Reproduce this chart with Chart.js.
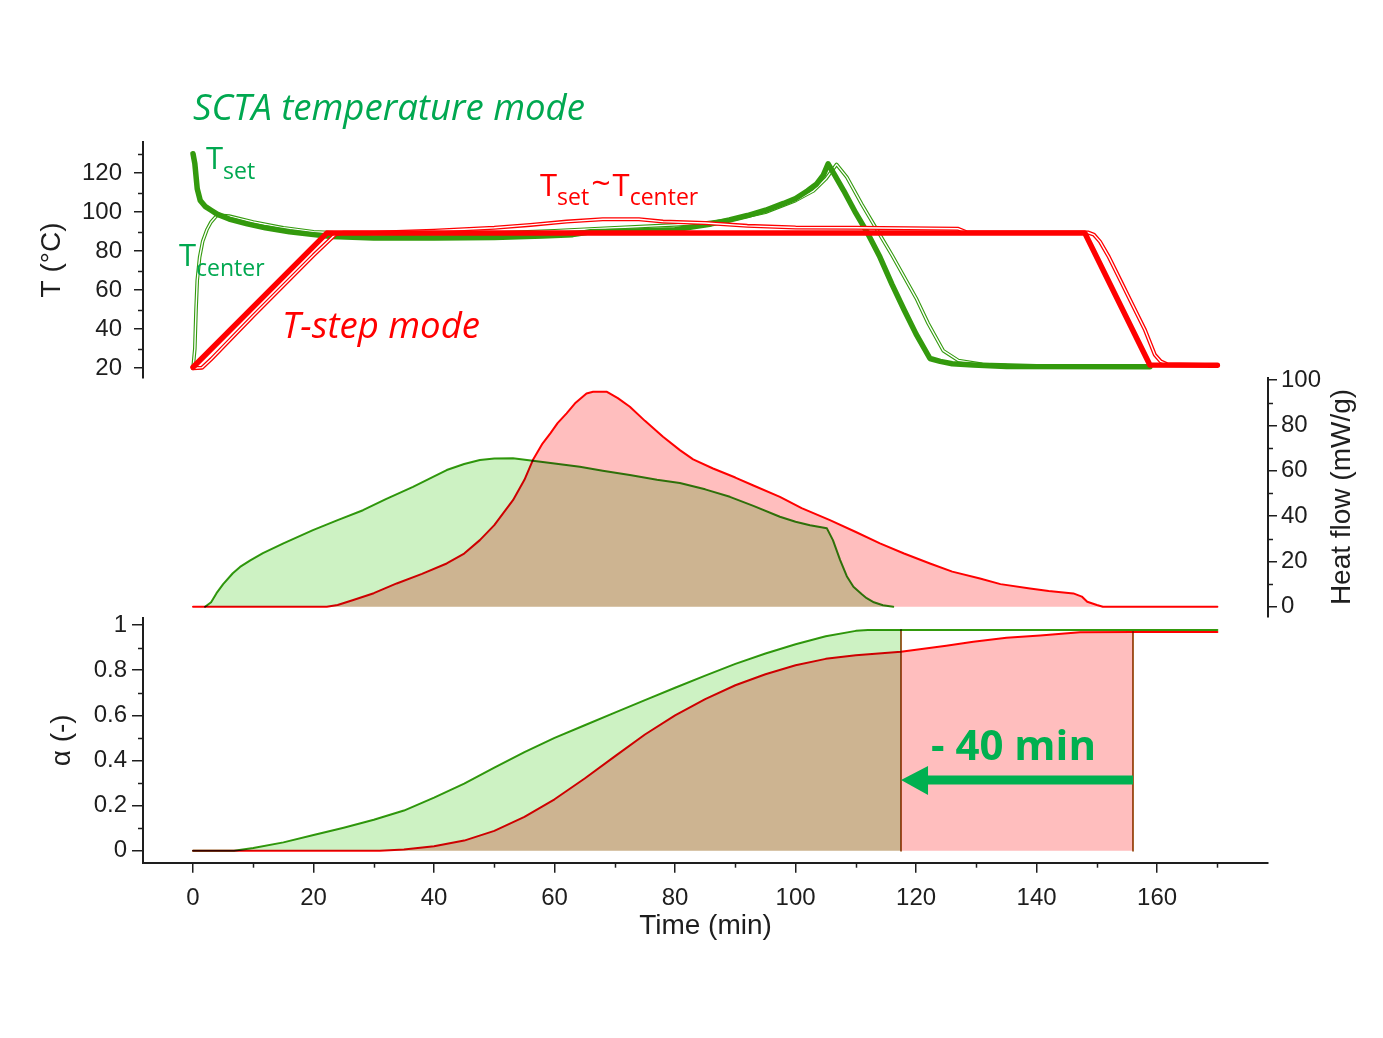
<!DOCTYPE html>
<html><head><meta charset="utf-8">
<script src="https://cdn.jsdelivr.net/npm/chart.js@4.4.0/dist/chart.umd.min.js"></script>
<style>
html,body{margin:0;padding:0;background:#fff;}
#wrap{position:relative;width:1383px;height:1038px;overflow:hidden;background:#fff;}
canvas{position:absolute;left:0;top:0;}
</style></head><body>
<div id="wrap">
<canvas id="cTop" width="1383" height="1038"></canvas>
<canvas id="cMid" width="1383" height="1038"></canvas>
<canvas id="cBot" width="1383" height="1038"></canvas>
</div>
<script>
// ---------------- DATA ----------------
const timeRange = [-8.3, 178.4];
const timeTicks = [0, 20, 40, 60, 80, 100, 120, 140, 160];
const timeTickLabels = ['0', '20', '40', '60', '80', '100', '120', '140', '160'];
const timeMinorTicks = [10, 30, 50, 70, 90, 110, 130, 150, 170];

const tempRange = [15, 136];
const tempTicks = [20, 40, 60, 80, 100, 120];
const tempTickLabels = ['20', '40', '60', '80', '100', '120'];
const tempMinorTicks = [30, 50, 70, 90, 110, 130];

const heatRange = [-4.5, 100.9];
const heatTicks = [0, 20, 40, 60, 80, 100];
const heatTickLabels = ['0', '20', '40', '60', '80', '100'];
const heatMinorTicks = [10, 30, 50, 70, 90];

const alphaRange = [-0.053, 1.031];
const alphaTicks = [0, 0.2, 0.4, 0.6, 0.8, 1];
const alphaTickLabels = ['0', '0.2', '0.4', '0.6', '0.8', '1'];
const alphaMinorTicks = [0.1, 0.3, 0.5, 0.7, 0.9];

// Top panel: temperatures (°C)
const sctaTsetTime  = [0, 0.3, 0.7, 1.2, 2, 3, 4, 6, 9, 12, 16, 20, 23, 30, 40, 50, 58, 63, 66, 75, 80, 83, 86, 89, 92, 95, 98, 100, 102, 103.5, 104.6, 105.4, 106.5, 108, 110, 112, 114, 116, 118, 120, 122.3, 124, 126, 129.5, 135, 158.8];
const sctaTsetValue = [130, 125, 112, 106, 103, 101, 99, 96.5, 94, 92, 90, 88.5, 87.5, 86.8, 86.8, 87, 87.8, 88.5, 90, 90.5, 91, 92.5, 94, 96, 98.3, 101, 104.5, 107, 111, 114.5, 119, 124.8, 119, 111, 99.5, 89, 77, 63, 50, 37.5, 25, 23.5, 22.3, 21.7, 20.9, 20.8];

const sctaTcenterTime  = [0, 0.3, 0.5, 0.7, 1.1, 1.6, 2.3, 3, 4, 6, 10, 15, 20, 25, 35, 50, 60, 70, 80, 85, 90, 95, 100, 103, 105, 106.8, 108.5, 111, 113.5, 116, 118, 120, 122, 124.5, 127, 131, 140, 158];
const sctaTcenterValue = [20, 30, 50, 65, 77, 85, 91, 95, 98.5, 98, 95, 92, 90, 89.2, 88.7, 89.3, 90.5, 92, 93.5, 94.5, 96.5, 100, 106, 111, 117, 124.5, 118, 104, 91, 78, 67, 56, 43, 29, 24, 22, 21.2, 21];

const tstepTsetTime  = [0, 22.2, 148, 158.8, 170];
const tstepTsetValue = [20.5, 89.3, 89.3, 21.7, 21.5];

const tstepTcenterTime  = [0, 1.5, 3, 10, 20, 23.7, 25, 30, 40, 50, 56, 62, 68, 74, 78, 85, 92, 100, 110, 127, 128.5, 148.5, 149.5, 150.5, 152, 154, 156, 158, 159.6, 160.6, 161.7, 170];
const tstepTcenterValue = [20, 20.3, 24.6, 46.9, 77.9, 88.8, 89.5, 89.5, 90.5, 92, 93.5, 95.2, 96.4, 96.4, 95.2, 94.5, 93, 92.2, 92, 91.5, 89.6, 89.6, 88.5, 85, 77, 64.5, 52, 39.5, 27, 23.5, 22, 21.5];

// Middle panel: heat flow (mW/g)
const sctaHeatTime  = [2, 3, 3.9, 5, 6.6, 7.8, 9.5, 11.6, 15, 19.9, 24, 28.2, 32, 36.5, 40, 42.1, 45, 47.6, 50, 53.1, 56.4, 60, 64.2, 68, 72.5, 77, 80.8, 85, 89.1, 93, 97.4, 100, 102.4, 105.2, 106.2, 107.4, 108.5, 109.6, 111, 111.8, 113, 114.5, 116.2];
const sctaHeatValue = [0, 2, 6, 10, 14.8, 17.6, 20.5, 23.7, 28, 33.8, 38.2, 42.6, 47.5, 52.9, 57.5, 60.3, 63, 64.7, 65.4, 65.5, 64.4, 63.2, 61.8, 60, 58.1, 56, 54.6, 51.8, 48.5, 44.5, 39.7, 37.5, 36, 34.6, 29.4, 20.6, 13.5, 8.8, 5.5, 3.8, 2, 0.7, 0];

const tstepHeatTime  = [0, 22.2, 24, 26.6, 30, 33.8, 38, 42.1, 45, 47.6, 50, 53.1, 55, 56.4, 58, 59.3, 60.5, 62, 63.5, 65.3, 66.4, 68.7, 70.5, 72.5, 75, 78, 80.8, 83, 86.3, 90, 93, 97.4, 101, 105.7, 110, 114, 118, 122.3, 126, 130.6, 134, 138.9, 142, 146.1, 147.5, 148.4, 150, 151, 170];
const tstepHeatValue = [0, 0, 0.8, 3, 6, 10.3, 14.5, 19.1, 23.5, 29.4, 36, 47, 56, 64.7, 72, 76.5, 81, 85.3, 90, 94.1, 94.8, 94.8, 92, 88.2, 82, 75, 69.1, 65, 61, 57, 53.5, 48.5, 43.5, 38.2, 33, 28, 23.5, 19.1, 15.5, 12.5, 10, 8.1, 7, 5.9, 4.5, 2.2, 0.8, 0, 0];

// Bottom panel: conversion alpha (-)
const sctaAlphaTime  = [0, 6.8, 10, 15, 20, 25, 30, 35, 40, 45, 50, 55, 60, 65, 70, 75, 80, 85, 90, 95, 100, 105, 110, 112, 117.5, 170];
const sctaAlphaValue = [0, 0, 0.012, 0.037, 0.07, 0.102, 0.137, 0.178, 0.235, 0.297, 0.368, 0.437, 0.5, 0.556, 0.612, 0.667, 0.722, 0.776, 0.828, 0.874, 0.915, 0.95, 0.974, 0.978, 0.978, 0.978];

const tstepAlphaTime  = [0, 31, 35, 40, 45, 50, 55, 60, 65, 70, 75, 80, 85, 90, 95, 100, 105, 110, 117.5, 125, 129.5, 135, 140.6, 147.2, 156, 170];
const tstepAlphaValue = [0, 0, 0.006, 0.02, 0.045, 0.088, 0.15, 0.228, 0.32, 0.418, 0.515, 0.6, 0.672, 0.733, 0.782, 0.822, 0.85, 0.866, 0.882, 0.908, 0.926, 0.943, 0.953, 0.968, 0.969, 0.969];

// end times (min) of the two curing runs
const sctaEndTime = 117.5;
const tstepEndTime = 156;
const arrowAlpha = 0.313;

// ---------------- STYLE ----------------
const TXT_FONT = "'Liberation Sans', Arial, sans-serif";
const ANN_FONT = "'Open Sans', 'Noto Sans', sans-serif";
const AXIS_COLOR = '#1e1e1e';
const GREEN_LINE = '#339a0d';
const GREEN_FILL = '#cdf2c3';
const RED_LINE = '#ff0000';
const RED_FILL = '#ffbebe';
const EDGE_BROWN = '#a3622c';
const GREEN_TEXT = '#00a850';
const GREEN_TEXT2 = '#00b050';
const TICK_SIZE = 24;

function xy(ts, vs) { return ts.map((t, i) => ({ x: t, y: vs[i] })); }
function fillShape(ts, vs, endT) {
  const pts = xy(ts, vs).filter(p => p.x <= endT);
  pts.push({ x: endT, y: 0 });
  return pts;
}
function fixTicks(values) { return (scale) => { scale.ticks = values.map(v => ({ value: v })); }; }
function labelFrom(values, labels) { return (v) => { const i = values.indexOf(v); return i >= 0 ? labels[i] : ''; }; }

const minorTickPlugin = {
  id: 'minorTicks',
  afterDraw(chart, args, opts) {
    const ctx = chart.ctx;
    ctx.save();
    ctx.strokeStyle = AXIS_COLOR;
    ctx.lineWidth = 1.5;
    (opts.items || []).forEach(it => {
      const s = chart.scales[it.axis];
      it.values.forEach(v => {
        const p = Math.round(s.getPixelForValue(v)) + 0.5;
        ctx.beginPath();
        if (s.position === 'left') { ctx.moveTo(s.right - it.len, p); ctx.lineTo(s.right, p); }
        else if (s.position === 'right') { ctx.moveTo(s.left, p); ctx.lineTo(s.left + it.len, p); }
        else { ctx.moveTo(p, s.top); ctx.lineTo(p, s.top + it.len); }
        ctx.stroke();
      });
    });
    ctx.restore();
  }
};

const multiplyPlugin = {
  id: 'multiplyBlend',
  beforeDatasetsDraw(chart) { chart.ctx.save(); chart.ctx.globalCompositeOperation = 'multiply'; },
  afterDatasetsDraw(chart) { chart.ctx.restore(); }
};

function drawParts(ctx, x, y, parts, color) {
  ctx.save();
  ctx.fillStyle = color;
  ctx.textAlign = 'left';
  ctx.textBaseline = 'alphabetic';
  let cx = x;
  parts.forEach(([t, size, dy, gap]) => {
    ctx.font = `${size}px ${ANN_FONT}`;
    cx += (gap || 0);
    ctx.fillText(t, cx, y + dy);
    cx += ctx.measureText(t).width + (gap || 0);
  });
  ctx.restore();
}
function drawFitted(ctx, text, x, y, width, style, color) {
  ctx.save();
  ctx.font = `${style} 32px ${ANN_FONT}`;
  const w = ctx.measureText(text).width;
  const size = 32 * width / w;
  ctx.font = `${style} ${size}px ${ANN_FONT}`;
  ctx.fillStyle = color;
  ctx.textAlign = 'left';
  ctx.textBaseline = 'alphabetic';
  ctx.fillText(text, x, y);
  ctx.restore();
}

const topTextPlugin = {
  id: 'topTexts',
  afterDraw(chart) {
    const ctx = chart.ctx;
    drawFitted(ctx, 'SCTA temperature mode', 193, 120, 392, 'italic', GREEN_TEXT);
    drawParts(ctx, 206, 169, [['T', 31, 0], ['set', 23, 10]], GREEN_TEXT);
    drawParts(ctx, 179, 266, [['T', 31, 0], ['center', 23, 10]], GREEN_TEXT);
    drawParts(ctx, 540, 196, [['T', 31, 0], ['set', 23, 9], ['~', 34, -1, 2], ['T', 31, 0], ['center', 23, 9]], RED_LINE);
    drawFitted(ctx, 'T-step mode', 282, 338, 198, 'italic', RED_LINE);
  }
};

const midTextPlugin = {
  id: 'midTexts',
  afterDraw(chart) {
    const ctx = chart.ctx;
    ctx.save();
    ctx.translate(1342, 497);
    ctx.rotate(-Math.PI / 2);
    ctx.font = `28px ${TXT_FONT}`;
    ctx.fillStyle = AXIS_COLOR;
    ctx.textAlign = 'center';
    ctx.textBaseline = 'middle';
    ctx.fillText('Heat flow (mW/g)', 0, 0);
    ctx.restore();
  }
};

const arrowPlugin = {
  id: 'arrow40',
  afterDraw(chart) {
    const ctx = chart.ctx;
    const xs = chart.scales.x, ys = chart.scales.y;
    const x0 = xs.getPixelForValue(tstepEndTime);
    const x1 = xs.getPixelForValue(sctaEndTime);
    const y = ys.getPixelForValue(arrowAlpha);
    ctx.save();
    ctx.fillStyle = GREEN_TEXT2;
    ctx.beginPath();
    ctx.moveTo(x0, y - 4.5);
    ctx.lineTo(x1 + 27, y - 4.5);
    ctx.lineTo(x1 + 27, y - 14);
    ctx.lineTo(x1, y);
    ctx.lineTo(x1 + 27, y + 15);
    ctx.lineTo(x1 + 27, y + 4.5);
    ctx.lineTo(x0, y + 4.5);
    ctx.closePath();
    ctx.fill();
    ctx.font = `bold 42px ${ANN_FONT}`;
    ctx.textAlign = 'left';
    ctx.textBaseline = 'alphabetic';
    ctx.fillText('- 40 min', 931, 760);
    ctx.restore();
  }
};

const commonOpts = {
  responsive: false,
  animation: false,
  events: [],
  elements: { point: { radius: 0 }, line: { tension: 0, borderJoinStyle: 'round', borderCapStyle: 'round' } },
};

function leftAxis(range, ticks, labels, tickLen, pad, titleText, titlePad) {
  return {
    type: 'linear', position: 'left', min: range[0], max: range[1],
    afterBuildTicks: fixTicks(ticks),
    afterFit: (s) => { s.width = 143; },
    ticks: { font: { family: TXT_FONT, size: TICK_SIZE }, color: AXIS_COLOR, padding: pad, callback: labelFrom(ticks, labels), autoSkip: false },
    grid: { drawOnChartArea: false, drawTicks: true, tickLength: tickLen, color: AXIS_COLOR, lineWidth: 1.5 },
    border: { display: true, color: AXIS_COLOR, width: 2 },
    title: { display: true, text: titleText, font: { family: TXT_FONT, size: 28 }, color: AXIS_COLOR, padding: { top: titlePad, bottom: 0 } }
  };
}
function hiddenX() {
  return { type: 'linear', min: timeRange[0], max: timeRange[1], display: false };
}

// ---------- TOP chart ----------
new Chart(document.getElementById('cTop'), {
  type: 'line',
  data: {
    datasets: [
      { data: xy(tstepTsetTime, tstepTsetValue), borderColor: RED_LINE, borderWidth: 5.5, order: 0 },
      { data: xy(tstepTcenterTime, tstepTcenterValue), borderColor: '#ffffff', borderWidth: 1.4, order: 1 },
      { data: xy(tstepTcenterTime, tstepTcenterValue), borderColor: RED_LINE, borderWidth: 4, order: 2 },
      { data: xy(sctaTsetTime, sctaTsetValue), borderColor: GREEN_LINE, borderWidth: 5.5, order: 3 },
      { data: xy(sctaTcenterTime, sctaTcenterValue), borderColor: '#ffffff', borderWidth: 1.4, order: 4 },
      { data: xy(sctaTcenterTime, sctaTcenterValue), borderColor: GREEN_LINE, borderWidth: 3.6, order: 5 },
    ]
  },
  options: Object.assign({}, commonOpts, {
    layout: { padding: { left: 0, right: 115, top: 142, bottom: 660 } },
    scales: {
      x: hiddenX(),
      y: leftAxis(tempRange, tempTicks, tempTickLabels, 9, 12, 'T (°C)', 35)
    },
    plugins: {
      legend: { display: false }, tooltip: { enabled: false },
      minorTicks: { items: [{ axis: 'y', values: tempMinorTicks, len: 5 }] }
    }
  }),
  plugins: [minorTickPlugin, topTextPlugin]
});

// ---------- MIDDLE chart ----------
new Chart(document.getElementById('cMid'), {
  type: 'line',
  data: {
    datasets: [
      { data: xy(tstepHeatTime, tstepHeatValue), borderColor: RED_LINE, borderWidth: 2, backgroundColor: RED_FILL, fill: 'origin', order: 0 },
      { data: xy(sctaHeatTime, sctaHeatValue), borderColor: GREEN_LINE, borderWidth: 2, backgroundColor: GREEN_FILL, fill: 'origin', order: 1 },
    ]
  },
  options: Object.assign({}, commonOpts, {
    layout: { padding: { left: 143, right: 0, top: 378, bottom: 421 } },
    scales: {
      x: hiddenX(),
      y: {
        type: 'linear', position: 'right', min: heatRange[0], max: heatRange[1],
        afterBuildTicks: fixTicks(heatTicks),
        afterFit: (s) => { s.width = 115; },
        ticks: { font: { family: TXT_FONT, size: TICK_SIZE }, color: AXIS_COLOR, padding: 4, callback: labelFrom(heatTicks, heatTickLabels), autoSkip: false },
        grid: { drawOnChartArea: false, drawTicks: true, tickLength: 9, color: AXIS_COLOR, lineWidth: 1.5 },
        border: { display: true, color: AXIS_COLOR, width: 2 }
      }
    },
    plugins: {
      legend: { display: false }, tooltip: { enabled: false },
      minorTicks: { items: [{ axis: 'y', values: heatMinorTicks, len: 5 }] }
    }
  }),
  plugins: [multiplyPlugin, minorTickPlugin, midTextPlugin]
});

// ---------- BOTTOM chart ----------
const edgeOnly = (ctx) => (ctx.p0.parsed.x === ctx.p1.parsed.x ? EDGE_BROWN : 'rgba(0,0,0,0)');
new Chart(document.getElementById('cBot'), {
  type: 'line',
  data: {
    datasets: [
      { data: xy(tstepAlphaTime, tstepAlphaValue), borderColor: RED_LINE, borderWidth: 2, order: 0 },
      { data: fillShape(tstepAlphaTime, tstepAlphaValue, tstepEndTime), borderColor: EDGE_BROWN, borderWidth: 2, backgroundColor: RED_FILL, fill: 'origin', segment: { borderColor: edgeOnly }, order: 1 },
      { data: xy(sctaAlphaTime, sctaAlphaValue), borderColor: GREEN_LINE, borderWidth: 2, order: 2 },
      { data: fillShape(sctaAlphaTime, sctaAlphaValue, sctaEndTime), borderColor: EDGE_BROWN, borderWidth: 2, backgroundColor: GREEN_FILL, fill: 'origin', segment: { borderColor: edgeOnly }, order: 3 },
    ]
  },
  options: Object.assign({}, commonOpts, {
    layout: { padding: { left: 0, right: 115, top: 618, bottom: 75.3 } },
    scales: {
      x: {
        type: 'linear', position: 'bottom', min: timeRange[0], max: timeRange[1],
        afterBuildTicks: fixTicks(timeTicks),
        afterFit: (s) => { s.height = 100; },
        ticks: { font: { family: TXT_FONT, size: TICK_SIZE }, color: AXIS_COLOR, padding: 11, maxRotation: 0, autoSkip: false, callback: labelFrom(timeTicks, timeTickLabels) },
        grid: { drawOnChartArea: false, drawTicks: true, tickLength: 10, color: AXIS_COLOR, lineWidth: 1.5 },
        border: { display: true, color: AXIS_COLOR, width: 2 },
        title: { display: true, text: 'Time (min)', font: { family: TXT_FONT, size: 28 }, color: AXIS_COLOR, padding: { top: 0, bottom: 20 } }
      },
      y: leftAxis(alphaRange, alphaTicks, alphaTickLabels, 11, 5, 'α (-)', 45)
    },
    plugins: {
      legend: { display: false }, tooltip: { enabled: false },
      minorTicks: { items: [{ axis: 'y', values: alphaMinorTicks, len: 5 }, { axis: 'x', values: timeMinorTicks, len: 5 }] }
    }
  }),
  plugins: [multiplyPlugin, minorTickPlugin, arrowPlugin]
});
</script>
</body></html>
